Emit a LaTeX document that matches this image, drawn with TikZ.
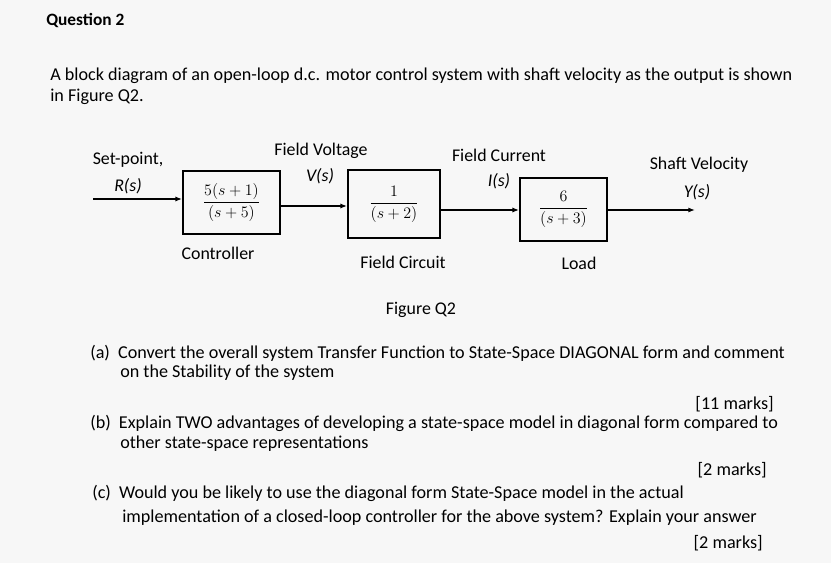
\documentclass[tikz,border=0pt]{standalone}
\usepackage{amsmath}
\usepackage{fontspec}
\setmainfont{Carlito}
\usetikzlibrary{arrows.meta}
\begin{document}
\begin{tikzpicture}[x=0.75pt,y=-0.75pt,
  txt/.style={anchor=west,inner sep=0pt,font=\fontsize{13.6}{15}\selectfont},
  lbl/.style={inner sep=0pt,font=\fontsize{13.4}{15}\selectfont},
  blk/.style={draw,line width=1.3pt,inner sep=0pt,font=\fontsize{13}{15}\selectfont},
  sig/.style={line width=1.3pt,-{Latex[length=5pt]}}]
\useasboundingbox[fill=gray!6] (0,0) rectangle (831,563);
\node[txt,font=\bfseries\fontsize{13}{15}\selectfont] (q) at (46,20) {Question 2};
\node[txt] (p1) at (50,76) {A block diagram of an open-loop d.c. motor control system with shaft velocity as the output is shown};
\node[txt] (p2) at (50,97) {in Figure Q2.};
% blocks
\node[blk,minimum width=72.75pt,minimum height=47.25pt] (c) at (231.5,202.5) {$\dfrac{5(s+1)}{(s+5)}$};
\node[blk,minimum width=69pt,minimum height=51pt] (f) at (394,204) {$\dfrac{1}{(s+2)}$};
\node[blk,minimum width=65.25pt,minimum height=47.25pt] (l) at (563.5,209.5) {$\dfrac{6}{(s+3)}$};
\coordinate (in) at (93,199);
\coordinate (out) at (695,210);
\draw[sig] (in) -- (in -| c.west);
\draw[sig] (c.east |- 0,206) -- (f.west |- 0,206);
\draw[sig] (f.east |- 0,210) -- (l.west |- 0,210);
\draw[sig] (l.east |- out) -- (out);
% labels
\node[lbl] (a1) at (128,160) {Set-point,};
\node[lbl] (a2) at (128,186) {\textit{R(s)}};
\node[lbl] (b1) at (321,151) {Field Voltage};
\node[lbl] (b2) at (320,176) {\textit{V(s)}};
\node[lbl] (d1) at (499,155) {Field Current};
\node[lbl] (d2) at (499,181) {\textit{I(s)}};
\node[lbl] (e1) at (699,165) {Shaft Velocity};
\node[lbl] (e2) at (697,192) {\textit{Y(s)}};
\node[lbl] (g1) at (218,253) {Controller};
\node[lbl] (g2) at (403,262) {Field Circuit};
\node[lbl] (g3) at (579,263) {Load};
\node[lbl] (fig) at (421,310) {Figure Q2};
% questions
\node[txt] (qa) at (90,353) {(a)\ \ Convert the overall system Transfer Function to State-Space DIAGONAL form and comment};
\node[txt] (qa2) at (120,373) {on the Stability of the system};
\node[txt,anchor=east] (ma) at (774,404) {[11 marks]};
\node[txt] (qb) at (90,423) {(b)\ \ Explain TWO advantages of developing a state-space model in diagonal form compared to};
\node[txt] (qb2) at (120,444) {other state-space representations};
\node[txt,anchor=east] (mb) at (767,470) {[2 marks]};
\node[txt] (qc) at (92,493) {(c)\ \ Would you be likely to use the diagonal form State-Space model in the actual};
\node[txt] (qc2) at (122,518) {implementation of a closed-loop controller for the above system? Explain your answer};
\node[txt,anchor=east] (mc) at (763,543) {[2 marks]};
\end{tikzpicture}
\end{document}
